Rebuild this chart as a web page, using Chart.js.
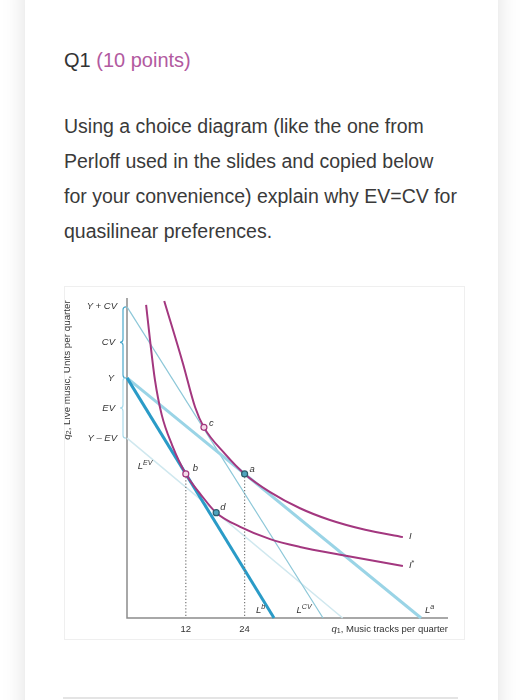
<!DOCTYPE html>
<html>
<head>
<meta charset="utf-8">
<script src="https://cdn.jsdelivr.net/npm/chart.js@4.4.1/dist/chart.umd.min.js"></script>
<style>
  html, body { margin: 0; padding: 0; background: #fff; }
  body { width: 529px; height: 700px; position: relative; overflow: hidden; font-family: "Liberation Sans", Arial, sans-serif; }
  .card { position: absolute; left: 25px; top: -20px; width: 473px; height: 760px; background: #fff; box-shadow: 0 0 22px rgba(0,0,0,0.13); }
  .q { position: absolute; left: 64px; top: 50px; font-size: 20px; line-height: 20px; color: #333; }
  .q span { color: #b25aa0; }
  .para { position: absolute; left: 64px; top: 109px; font-size: 19.5px; line-height: 35px; color: #3a3a3a; white-space: nowrap; }
  .fig { position: absolute; left: 64px; top: 286px; width: 399px; height: 352px; border: 1px solid #efefef; }
  #chart { position: absolute; left: 64px; top: 286px; }
  .next { position: absolute; left: 63px; top: 697px; width: 395px; height: 10px; border-top: 2px solid #e4e4e4; }
</style>
</head>
<body>
<div class="card"></div>
<div class="q">Q1 <span>(10 points)</span></div>
<div class="para">Using a choice diagram (like the one from<br>Perloff used in the slides and copied below<br>for your convenience) explain why EV=CV for<br>quasilinear preferences.</div>
<div class="fig"></div>
<canvas id="chart" width="400" height="353"></canvas>
<div class="next"></div>
<script>
// Budget lines: q1 and q2 intercepts (L^b, L^a, L^CV, L^EV)
const incomeY = 49;
const cvAmount = 14.5;
const evAmount = 12.3;
const budgetNames = ['Lb', 'La', 'LCV', 'LEV'];
const budgetQ2Intercepts = [incomeY, incomeY, incomeY + cvAmount, incomeY - evAmount];
const budgetQ1Intercepts = [30, 60, 40, 44];

// Indifference curves
const curveI = [[7.6, 64.7], [11.4, 52.0], [13.9, 43.0], [15.7, 38.9], [20.0, 33.5], [24, 29.4],
    [29.2, 25.7], [35.3, 22.4], [41.4, 20.0], [48.6, 18.0], [56.3, 16.5]];
const curveIStar = [[3.9, 63.9], [4.7, 56.7], [5.7, 48.6], [7.1, 41.4], [9.2, 35.3], [12, 29.4],
    [14.9, 25.4], [18.2, 21.5], [23.1, 18.6], [29.2, 16.1], [35.3, 14.5], [43.5, 12.9], [56.3, 10.6]];

// Optimal bundles
const pointNames = ['a', 'b', 'c', 'd'];
const pointQ1 = [24, 12, 15.7, 18.2];
const pointQ2 = [29.4, 29.4, 38.9, 21.5];

const tickLabels = [12, 24];
const axisMax = [65.5, 65.3];

const purple = '#a3377f';
const font = '"Liberation Sans", Arial, sans-serif';

function budgetLine(i) {
    return [{ x: 0, y: budgetQ2Intercepts[i] }, { x: budgetQ1Intercepts[i], y: 0 }];
}
function toXY(arr) {
    return arr.map(p => ({ x: p[0], y: p[1] }));
}
function pts(names) {
    return names.map(n => {
        const i = pointNames.indexOf(n);
        return { x: pointQ1[i], y: pointQ2[i] };
    });
}

function brace(ctx, x, yTop, yBot, w) {
    const mid = (yTop + yBot) / 2;
    ctx.beginPath();
    ctx.moveTo(x + w, yTop);
    ctx.quadraticCurveTo(x, yTop, x, yTop + w);
    ctx.lineTo(x, mid - w);
    ctx.quadraticCurveTo(x, mid, x - w, mid);
    ctx.quadraticCurveTo(x, mid, x, mid + w);
    ctx.lineTo(x, yBot - w);
    ctx.quadraticCurveTo(x, yBot, x + w, yBot);
    ctx.stroke();
}

// text with an optional raised / lowered small part
function richText(ctx, parts, x, y, align, size) {
    size = size || 9.5;
    let total = 0;
    const f = p => (p.italic ? 'italic ' : '') + (p.small ? size * 0.75 : size) + 'px ' + font;
    parts.forEach(p => {
        ctx.font = f(p);
        p.w = ctx.measureText(p.t).width;
        total += p.w;
    });
    let cx = align === 'right' ? x - total : align === 'center' ? x - total / 2 : x;
    parts.forEach(p => {
        ctx.font = f(p);
        ctx.fillText(p.t, cx, y + (p.dy || 0));
        cx += p.w;
    });
}

const labelsPlugin = {
    id: 'labels',
    afterDatasetsDraw(chart) {
        const ctx = chart.ctx;
        const sx = chart.scales.x, sy = chart.scales.y;
        const X = v => sx.getPixelForValue(v);
        const Y = v => sy.getPixelForValue(v);
        ctx.save();
        ctx.fillStyle = '#333';
        ctx.textBaseline = 'middle';

        // braces on the vertical axis
        ctx.lineWidth = 1.2;
        ctx.strokeStyle = '#4aa9cc';
        brace(ctx, X(0) - 4, Y(incomeY + cvAmount), Y(incomeY), 3);
        ctx.strokeStyle = '#a9dbeb';
        brace(ctx, X(0) - 4, Y(incomeY), Y(incomeY - evAmount), 3);

        const lx = X(0) - 10;
        richText(ctx, [{ t: 'Y + CV', italic: true }], lx, Y(incomeY + cvAmount), 'right');
        richText(ctx, [{ t: 'CV', italic: true }], lx - 2, Y(incomeY + cvAmount / 2), 'right');
        richText(ctx, [{ t: 'Y', italic: true }], lx - 3, Y(incomeY), 'right');
        richText(ctx, [{ t: 'EV', italic: true }], lx - 2, Y(incomeY - evAmount / 2), 'right');
        richText(ctx, [{ t: 'Y \u2013 EV', italic: true }], lx, Y(incomeY - evAmount), 'right');

        // point letters
        const offs = { a: [5, -5], b: [7, -6], c: [5, -4], d: [4, -5] };
        pointNames.forEach((n, i) => {
            richText(ctx, [{ t: n, italic: true }], X(pointQ1[i]) + offs[n][0], Y(pointQ2[i]) + offs[n][1], 'left');
        });

        // budget line labels
        const lyBottom = Y(0) - 8;
        richText(ctx, [{ t: 'L', italic: true }, { t: 'EV', italic: true, small: true, dy: -3 }], X(2.2), Y(31), 'left');
        richText(ctx, [{ t: 'L', italic: true }, { t: 'b', italic: true, small: true, dy: -3 }], X(26.3), lyBottom, 'left');
        richText(ctx, [{ t: 'L', italic: true }, { t: 'CV', italic: true, small: true, dy: -3 }], X(34.6), lyBottom, 'left');
        richText(ctx, [{ t: 'L', italic: true }, { t: 'a', italic: true, small: true, dy: -3 }], X(60.8), lyBottom, 'left');

        // curve labels
        const last = curveI[curveI.length - 1];
        const lastS = curveIStar[curveIStar.length - 1];
        richText(ctx, [{ t: 'I', italic: true }], X(last[0]) + 6, Y(last[1]) - 1, 'left');
        richText(ctx, [{ t: 'I', italic: true }, { t: '*', small: true, dy: -2 }], X(lastS[0]) + 6, Y(lastS[1]) - 1, 'left');

        // tick labels and axis titles
        tickLabels.forEach(t => richText(ctx, [{ t: String(t) }], X(t), Y(0) + 11, 'center'));
        richText(ctx, [{ t: 'q', italic: true }, { t: '1', small: true, dy: 2 }, { t: ', Music tracks per quarter' }],
            X(axisMax[0]), Y(0) + 11, 'right');

        ctx.translate(chart.chartArea.left - 60, Y(50.6));
        ctx.rotate(-Math.PI / 2);
        richText(ctx, [{ t: 'q', italic: true }, { t: '2', small: true, dy: 2 }, { t: ', Live music, Units per quarter' }],
            0, 0, 'center', 9.8);
        ctx.restore();
    }
};

const lineStyle = { showLine: true, pointRadius: 0, fill: false, clip: false };

new Chart(document.getElementById('chart').getContext('2d'), {
    type: 'scatter',
    data: {
        datasets: [
            { ...lineStyle, order: 9, data: [{ x: 0, y: axisMax[1] }, { x: 0, y: 0 }, { x: axisMax[0], y: 0 }],
              borderColor: '#8c8c8c', borderWidth: 1.5 },
            { ...lineStyle, order: 8, data: budgetLine(3), borderColor: '#d0e8ef', borderWidth: 1.6 },
            { ...lineStyle, order: 7, data: budgetLine(2), borderColor: '#8cc7d8', borderWidth: 1.2 },
            { ...lineStyle, order: 6, data: budgetLine(1), borderColor: '#9ad4e6', borderWidth: 3 },
            { ...lineStyle, order: 5, data: budgetLine(0), borderColor: '#2a9bc7', borderWidth: 3 },
            { ...lineStyle, order: 4, data: [{ x: tickLabels[0], y: pointQ2[1] }, { x: tickLabels[0], y: 0 }],
              borderColor: '#777', borderWidth: 1.2, borderDash: [1.2, 2] },
            { ...lineStyle, order: 4, data: [{ x: tickLabels[1], y: pointQ2[0] }, { x: tickLabels[1], y: 0 }],
              borderColor: '#777', borderWidth: 1.2, borderDash: [1.2, 2] },
            { ...lineStyle, order: 2, data: toXY(curveI), borderColor: purple, borderWidth: 2,
              tension: 0.4, cubicInterpolationMode: 'monotone' },
            { ...lineStyle, order: 2, data: toXY(curveIStar), borderColor: purple, borderWidth: 2,
              tension: 0.4, cubicInterpolationMode: 'monotone' },
            { data: pts(['b', 'c']), order: 0, pointRadius: 3, pointBorderWidth: 1.2,
              pointBorderColor: purple, pointBackgroundColor: '#f4dbe9', clip: false },
            { data: pts(['a', 'd']), order: 0, pointRadius: 3, pointBorderWidth: 1.2,
              pointBorderColor: '#2d5e6e', pointBackgroundColor: '#4fa3bd', clip: false }
        ]
    },
    options: {
        responsive: false,
        animation: false,
        events: [],
        layout: { padding: { left: 63, right: 16, top: 12, bottom: 21 } },
        plugins: { legend: { display: false }, tooltip: { enabled: false } },
        scales: {
            x: { type: 'linear', display: false, min: 0, max: axisMax[0] },
            y: { type: 'linear', display: false, min: 0, max: axisMax[1] }
        }
    },
    plugins: [labelsPlugin]
});
</script>
</body>
</html>
